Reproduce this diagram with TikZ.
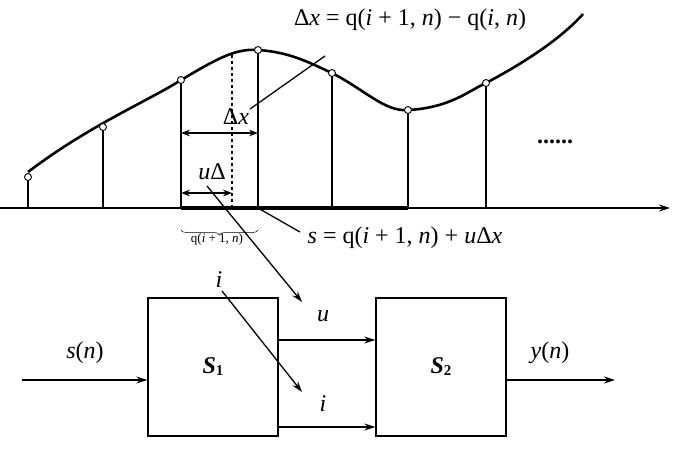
\documentclass[tikz,border=0pt]{standalone}
\usepackage{fontspec}
\setmainfont{Liberation Serif}
\usetikzlibrary{arrows.meta,decorations.pathreplacing}
\newcommand{\vi}[1]{\textit{#1}}
\begin{document}
\begin{tikzpicture}[x=1pt,y=-1pt,line width=1.3pt,
  samp/.style={circle,draw,line width=0.9pt,fill=white,inner sep=0pt,minimum size=7pt},
  lbl/.style={inner sep=1pt,font=\fontsize{24}{27}\selectfont},
  blk/.style={draw,line width=1.3pt,minimum width=130pt,minimum height=138pt,font=\fontsize{24}{27}\selectfont},
  arr/.style={-{Stealth[length=11pt,width=7pt]},line width=1.3pt}]
\useasboundingbox (0,0) rectangle (685,464);
% samples
\foreach \n/\x/\y in {a/28/177,b/103/127,c/181/80,d/258/50,e/332/73,f/408/110,g/486/83}{
  \coordinate (\n b) at (\x,208);
  \draw (\x,\y) -- (\n b);
}
\draw[line width=2.6pt] (28,172) .. controls (90,125) and (150,100) .. (181,80)
  .. controls (215,60) and (235,48) .. (258,50)
  .. controls (290,52) and (310,63) .. (332,73)
  .. controls (365,90) and (385,112) .. (408,110)
  .. controls (450,108) and (470,90) .. (486,83)
  .. controls (520,65) and (560,40) .. (583,14);
\foreach \n/\x/\y in {a/28/177,b/103/127,c/181/80,d/258/50,e/332/73,f/408/110,g/486/83}
  \node[samp] (\n) at (\x,\y) {};
% axis
\coordinate (ax0) at (0,208); \coordinate (ax1) at (670,208);
\draw[arr] (ax0) -- (ax1);
\draw[line width=3.2pt] (cb) -- (fb);
\draw[dashed] (232,55) -- (232,208);
% delta x
\draw[{Stealth[length=9pt]}-{Stealth[length=9pt]}] (181,133) -- (258,133);
\node[lbl] (dx) at (236,117) {Δ\vi{x}};
\node[lbl] (dxeq) at (410,20) {Δ\vi{x} = q(\vi{i} + 1, \vi{n}) − q(\vi{i}, \vi{n})};
\draw (250,109) -- (325,56);
\draw[{Stealth[length=9pt]}-{Stealth[length=9pt]}] (181,193) -- (232,193);
\node[lbl] (ud) at (212,172) {\vi{u}Δ};
\node[lbl] at (555,142) {\textbf{......}};
% s
\node[lbl] (seq) at (405,238) {\vi{s} = q(\vi{i} + 1, \vi{n}) + \vi{u}Δ\vi{x}};
\draw (db) -- (300,232);
% brace
\draw[line width=0.5pt,decorate,decoration={brace,amplitude=5pt,mirror}] (181,230) -- (258,230);
\node[lbl,font=\fontsize{13}{14}\selectfont] (qb) at (217,239) {q(\vi{i} + 1, \vi{n})};
\node[lbl] (ilab) at (219,280) {\vi{i}};
% blocks
\node[blk] (s1) at (213,367) {\textbf{\textit{S}}\raisebox{-2pt}{\fontsize{15}{16}\selectfont\bfseries 1}};
\node[blk] (s2) at (441,367) {\textbf{\textit{S}}\raisebox{-2pt}{\fontsize{15}{16}\selectfont\bfseries 2}};
\draw[arr] (s1.east |- 0,340) -- (s2.west |- 0,340);
\draw[arr] (s1.east |- 0,427) -- (s2.west |- 0,427);
\coordinate (in) at (22,380); \coordinate (out) at (615,380);
\draw[arr] (in) -- (s1.west |- in);
\draw[arr] (s2.east |- out) -- (out);
\node[lbl] at (85,353) {\vi{s}(\vi{n})};
\node[lbl] at (550,353) {\vi{y}(\vi{n})};
\node[lbl] (ul) at (323,316) {\vi{u}};
\node[lbl] (il) at (323,404) {\vi{i}};
\draw[arr] (207,186) -- (302,302);
\draw[arr] (222,291) -- (302,392);
\end{tikzpicture}
\end{document}
